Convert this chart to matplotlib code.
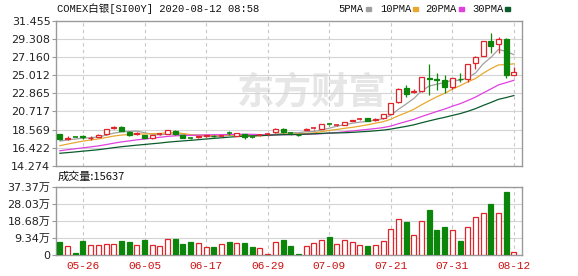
import matplotlib
matplotlib.use("Agg")
import matplotlib.pyplot as plt
import numpy as np
import pandas as pd

# ---------------- data ----------------
dates = ['05-20', '05-21', '05-22', '05-26', '05-27', '05-28', '05-29', '06-01', '06-02', '06-03',
         '06-04', '06-05', '06-08', '06-09', '06-10', '06-11', '06-12', '06-15', '06-16', '06-17',
         '06-18', '06-19', '06-22', '06-23', '06-24', '06-25', '06-26', '06-29', '06-30', '07-01',
         '07-02', '07-03', '07-06', '07-07', '07-08', '07-09', '07-10', '07-13', '07-14', '07-15',
         '07-16', '07-17', '07-20', '07-21', '07-22', '07-23', '07-24', '07-27', '07-28', '07-29',
         '07-30', '07-31', '08-03', '08-04', '08-05', '08-06', '08-07', '08-10', '08-11', '08-12']
xtick_labels = ['05-26', '06-05', '06-17', '06-29', '07-09', '07-21', '07-31', '08-12']

opens = [18.00, 17.50, 17.65, 17.80, 17.55, 17.72, 18.00, 18.75, 18.90, 18.30,
         18.08, 17.92, 17.52, 17.98, 18.07, 18.43, 17.92, 17.56, 17.68, 17.80,
         17.85, 17.80, 18.15, 17.84, 18.00, 17.72, 17.90, 17.98, 18.22, 18.65,
         18.15, 17.95, 18.55, 18.68, 18.63, 19.22, 19.05, 19.10, 19.60, 19.76,
         19.90, 19.74, 19.90, 20.41, 21.80, 23.54, 23.00, 23.10, 24.70, 24.60,
         24.45, 23.66, 24.62, 24.53, 26.43, 27.30, 29.08, 28.69, 29.32, 25.04]
highs = [18.05, 17.75, 17.70, 17.95, 17.85, 18.00, 18.65, 18.95, 18.95, 18.35,
         18.30, 17.95, 17.95, 18.10, 18.52, 18.50, 17.95, 17.70, 17.85, 17.95,
         17.90, 17.95, 18.35, 18.15, 18.05, 17.75, 18.00, 18.15, 18.72, 18.80,
         18.30, 18.00, 18.72, 18.90, 19.22, 19.40, 19.15, 19.50, 19.75, 19.95,
         19.95, 19.95, 20.42, 21.72, 23.45, 23.90, 23.35, 24.85, 26.30, 25.30,
         25.00, 24.70, 25.25, 26.35, 27.30, 29.12, 30.00, 29.60, 29.40, 25.96]
lows = [17.35, 17.35, 17.55, 17.50, 17.30, 17.65, 17.95, 18.65, 18.35, 17.85,
        17.95, 17.55, 17.45, 17.90, 18.00, 17.95, 17.55, 17.35, 17.60, 17.70,
        17.70, 17.75, 17.95, 17.80, 17.50, 17.60, 17.85, 17.85, 18.20, 18.10,
        17.95, 17.85, 18.50, 18.55, 18.60, 18.95, 19.00, 19.05, 19.55, 19.65,
        19.60, 19.62, 19.85, 20.38, 21.75, 22.45, 22.85, 23.05, 22.70, 23.30,
        22.90, 23.40, 24.20, 24.25, 25.80, 27.25, 27.60, 27.62, 24.65, 25.04]
closes = [17.45, 17.60, 17.60, 17.72, 17.62, 17.92, 18.60, 18.85, 18.42, 17.92,
          18.14, 17.62, 17.92, 18.02, 18.48, 18.00, 17.62, 17.50, 17.76, 17.90,
          17.75, 17.85, 18.10, 18.12, 17.72, 17.66, 17.95, 18.03, 18.68, 18.25,
          18.10, 17.88, 18.65, 18.74, 19.19, 19.16, 19.10, 19.45, 19.70, 19.82,
          19.62, 19.80, 20.37, 21.68, 23.40, 22.75, 23.12, 24.80, 24.60, 24.50,
          23.66, 24.65, 24.55, 26.31, 27.22, 29.08, 28.49, 29.32, 25.04, 25.37]
# closes before the visible window (needed for the moving averages)
prior_closes = [15.3, 15.1, 15.0, 15.2, 15.1, 15.2, 15.1, 15.0, 15.2, 15.3,
                15.2, 15.3, 15.5, 15.4, 15.6, 15.5, 15.4, 15.5, 15.5, 15.6,
                15.7, 15.8, 16.0, 16.3, 16.7, 16.9, 17.1, 17.2, 17.35]
volumes_wan = [7.18, 4.85, 1.26, 7.54, 5.39, 5.39, 5.93, 5.93, 7.54, 7.00,
               5.39, 8.08, 5.39, 4.85, 8.62, 8.62, 5.93, 7.00, 6.47, 4.13,
               4.31, 5.75, 7.00, 6.65, 6.47, 4.13, 3.77, 0.70, 7.00, 8.08,
               4.85, 0.36, 4.85, 6.47, 8.08, 9.70, 5.93, 8.08, 7.00, 5.39,
               4.85, 5.39, 7.54, 14.00, 19.76, 17.96, 10.78, 18.32, 24.79, 13.47,
               15.09, 13.47, 7.72, 15.09, 21.00, 23.17, 27.66, 23.17, 34.49, 1.5637]
price_ticks = [14.274, 16.422, 18.569, 20.717, 22.865, 25.012, 27.160, 29.308, 31.455]
vol_ticks = [0, 9.34, 18.68, 28.03, 37.37]
ma_periods = [5, 10, 20, 30]
ma_names = ['5PMA', '10PMA', '20PMA', '30PMA']

# ---------------- style ----------------
RED = '#e0242b'
GREEN = '#0b860b'
ma_colors = ['#a0a0a0', '#e8a830', '#e040e0', '#0a5c2c']
GRID = '#d4d4d4'
SPINE = '#9a9a9a'

W, H = 578, 276
fig = plt.figure(figsize=(W / 100, H / 100), dpi=100)
ax = fig.add_axes([56 / W, 1 - 165.7 / H, 466 / W, 144.7 / H])
axv = fig.add_axes([56 / W, 1 - 255 / H, 466 / W, 68.5 / H])

n = len(closes)
x = np.arange(n)
o = np.array(opens); c = np.array(closes); hi = np.array(highs); lo = np.array(lows)
up = c >= o
bw = 0.65

# moving averages
allc = pd.Series(prior_closes + closes)
for p, col in zip(ma_periods, ma_colors):
    ma = allc.rolling(p).mean().values[len(prior_closes):]
    ax.plot(x, ma, color=col, lw=0.9, zorder=3)

# candles
for i in range(n):
    top = max(o[i], c[i]); bot = min(o[i], c[i])
    col = RED if up[i] else GREEN
    ax.vlines(x[i], top, hi[i], color=col, lw=0.9, zorder=4)
    ax.vlines(x[i], lo[i], bot, color=col, lw=0.9, zorder=4)
    if top - bot < 0.06:
        ax.hlines((top + bot) / 2, x[i] - bw / 2, x[i] + bw / 2, color=col, lw=1.2, zorder=5)
    else:
        if up[i]:
            ax.bar(x[i], top - bot, bw, bot, facecolor='white', edgecolor=col, lw=0.9, zorder=5)
        else:
            ax.bar(x[i], top - bot, bw, bot, facecolor=col, edgecolor=col, lw=0.9, zorder=5)

# volume
v = np.array(volumes_wan)
for i in range(n):
    if up[i]:
        axv.bar(x[i], v[i], bw, 0, facecolor='white', edgecolor=RED, lw=0.9, zorder=3)
    else:
        axv.bar(x[i], v[i], bw, 0, facecolor=GREEN, edgecolor=GREEN, lw=0.9, zorder=3)

tick_idx = [dates.index(d) for d in xtick_labels]

for a in (ax, axv):
    a.set_xlim(-0.5, 60.05)
    for s in a.spines.values():
        s.set_color(SPINE)
        s.set_linewidth(1.0)
    for t in tick_idx:
        a.axvline(t, color='#c8c8c8', lw=0.8, ls=(0, (3, 3)), zorder=1)
    a.tick_params(axis='y', length=3, color=SPINE, labelsize=8, labelcolor='#222222', pad=1)

ax.set_ylim(price_ticks[0], price_ticks[-1])
ax.set_yticks(price_ticks)
ax.set_yticklabels(['%.3f' % t for t in price_ticks])
for t in price_ticks[1:-1]:
    ax.axhline(t, color=GRID, lw=0.8, zorder=1)
ax.set_xticks([])

axv.set_ylim(0, vol_ticks[-1])
axv.set_yticks(vol_ticks)
axv.set_yticklabels(['0'] + ['%.2f万' % t for t in vol_ticks[1:]],
                    family=['DejaVu Sans', 'Noto Sans CJK SC'])
for t in vol_ticks[1:-1]:
    axv.axhline(t, color=GRID, lw=0.8, zorder=1)
axv.set_xticks(tick_idx)
axv.set_xticklabels(xtick_labels, family='Liberation Mono', fontsize=8, color='#cc1111')
axv.tick_params(axis='x', length=0, pad=4)

# watermark
ax.text(0.55, 0.5, '东方财富', transform=ax.transAxes, ha='center', va='center',
        fontsize=27, color='#e6e6e6', family='Noto Sans CJK SC', fontweight='bold', zorder=0)

# header
fig.text(57 / W, 1 - 9 / H, 'COMEX白银[SI00Y] 2020-08-12 08:58', ha='left', va='center',
         fontsize=7.6, family=['Liberation Mono', 'Noto Sans CJK SC'], color='#111111')

# legend
leg_x = [338, 380, 425, 472]
sq_x = [366, 413, 459, 505]
for name, col, lx, sx in zip(ma_names, ma_colors, leg_x, sq_x):
    fig.text(lx / W, 1 - 9 / H, name, ha='left', va='center', fontsize=7.6,
             family='Liberation Mono', color='#111111')
    fig.patches.append(plt.Rectangle((sx / W, 1 - 10.5 / H), 5 / W, 3 / H,
                                     transform=fig.transFigure, color=col, figure=fig))

fig.text(58 / W, 1 - 177 / H, '成交量:15637', ha='left', va='center', fontsize=8,
         family=['Noto Sans CJK SC', 'DejaVu Sans'], color='#111111')

fig.savefig('out.png', dpi=100)
